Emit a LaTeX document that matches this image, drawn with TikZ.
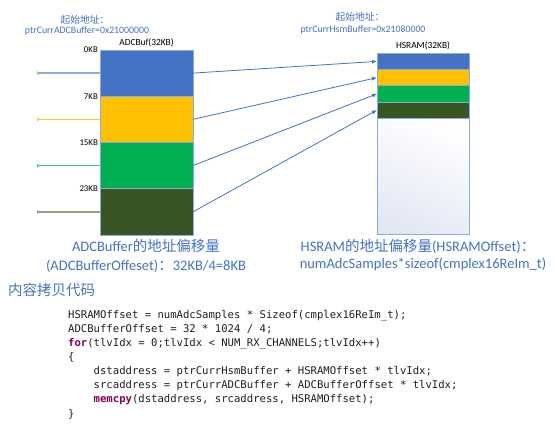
\documentclass[tikz,border=0pt]{standalone}
\usepackage{fontspec}
\setmainfont{Carlito}
\setmonofont{DejaVu Sans Mono}
\newfontfamily\cjk{Noto Sans CJK SC}
\usepackage{tikz}
\usetikzlibrary{arrows.meta,positioning}
\definecolor{bufBlue}{HTML}{4472C4}
\definecolor{bufYellow}{HTML}{FFC000}
\definecolor{bufGreen}{HTML}{00B050}
\definecolor{bufDark}{HTML}{375623}
\definecolor{bufEdge}{HTML}{8FAADC}
\definecolor{bufShade}{HTML}{E4E8F5}
\definecolor{kwPurple}{HTML}{7F0055}
\tikzset{
  buf/seg/.style={draw=bufEdge, line width=0.6pt, minimum width=93pt, minimum height=46.25pt, inner sep=0pt, outer sep=0pt},
  buf/hseg/.style={buf/seg, minimum width=92pt, minimum height=16.2pt},
  buf/kb/.style={font=\fontsize{8.8}{10}\selectfont, anchor=east, inner sep=1pt, xshift=-1pt},
  buf/title/.style={font=\fontsize{9.4}{11}\selectfont, anchor=south, inner sep=1pt, yshift=2pt},
  buf/addr/.style={text=bufBlue, font=\fontsize{9.8}{11}\selectfont, inner sep=0pt},
  buf/cap/.style={text=bufBlue, font=\fontsize{14.5}{17}\selectfont, inner sep=0pt},
  buf/copy/.style={-{Latex[length=5pt,width=4pt]}, draw=bufBlue, line width=0.8pt},
  buf/feed/.style={{Latex[length=3pt,width=4.5pt,reversed]}-, line width=1.6pt},
  buf/code/.style={font=\fontsize{10.6}{14.1}\selectfont\ttfamily, text=black!88, align=left, inner sep=0pt}
}
\newcommand{\kw}[1]{\textcolor{kwPurple}{\textbf{#1}}}

\begin{document}
\begin{tikzpicture}[x=1pt, y=-1pt, node distance=0pt]
  \useasboundingbox (0,0) rectangle (554,436);
  % ADC buffer
  \node[buf/seg, fill=bufBlue] (adc1) at (146.5,73.1) {};
  \node[buf/seg, fill=bufYellow, below=of adc1] (adc2) {};
  \node[buf/seg, fill=bufGreen, below=of adc2] (adc3) {};
  \node[buf/seg, fill=bufDark, below=of adc3] (adc4) {};
  \node[buf/title] (adcname) at (adc1.north) {ADCBuf(32KB)};
  \node[buf/kb] (kb0) at (adc1.north west) {0KB};
  \node[buf/kb] (kb7) at (adc2.north west) {7KB};
  \node[buf/kb] (kb15) at (adc3.north west) {15KB};
  \node[buf/kb] (kb23) at (adc4.north west) {23KB};
  % HSRAM
  \node[buf/hseg, fill=bufBlue] (hs1) at (423,61.4) {};
  \node[buf/hseg, fill=bufYellow, below=of hs1] (hs2) {};
  \node[buf/hseg, fill=bufGreen, below=of hs2] (hs3) {};
  \node[buf/hseg, fill=bufDark, below=of hs3] (hs4) {};
  \node[buf/hseg, minimum height=116pt, top color=white, bottom color=bufShade, shading angle=-25, below=of hs4] (hsfree) {};
  \node[buf/title] (hsname) at (hs1.north) {HSRAM(32KB)};
  % start addresses
  \node[buf/addr] (adcstart) at (85,20) {\cjk 起始地址：};
  \node[buf/addr] (adcptr) at (87,31) {ptrCurrADCBuffer=0x21000000};
  \node[buf/addr] (hsstart) at (360,17) {\cjk 起始地址：};
  \node[buf/addr] (hsptr) at (363,30) {ptrCurrHsmBuffer=0x21080000};
  % incoming lines
  \coordinate[left=63pt of adc1.west] (in1);
  \coordinate[left=63pt of adc2.west] (in2);
  \coordinate[left=63pt of adc3.west] (in3);
  \coordinate[left=63pt of adc4.west] (in4);
  \draw[buf/feed, bufBlue!60] (in1) -- (adc1);
  \draw[buf/feed, bufYellow!85] (in2) -- (adc2);
  \draw[buf/feed, bufGreen!70] (in3) -- (adc3);
  \draw[buf/feed, bufDark!55] (in4) -- (adc4);
  % copies
  \draw[buf/copy] (adc1.east) -- (hs1.west);
  \draw[buf/copy] (adc2.east) -- (hs2.west);
  \draw[buf/copy] (adc3.east) -- (hs3.west);
  \draw[buf/copy] (adc4.east) -- (hs4.west);
  % offsets
  \node[buf/cap] (adccap) at (146,246) {ADCBuffer{\cjk 的地址偏移量}};
  \node[buf/cap] (adcoff) at (146,266) {(ADCBufferOffeset){\cjk ：}32KB/4=8KB};
  \node[buf/cap] (hscap) at (418,246) {HSRAM{\cjk 的地址偏移量}(HSRAMOffset){\cjk ：}};
  \node[buf/cap] (hsoff) at (423,264) {numAdcSamples*sizeof(cmplex16ReIm\_t)};
  % copy code
  \node[buf/cap, anchor=west] (codetitle) at (8,290) {\cjk 内容拷贝代码};
  \node[buf/code, anchor=north west] (code) at (68,310) {%
HSRAMOffset = numAdcSamples * Sizeof(cmplex16ReIm\_t);\\
ADCBufferOffset = 32 * 1024 / 4;\\
\kw{for}(tlvIdx = 0;tlvIdx < NUM\_RX\_CHANNELS;tlvIdx++)\\
\{\\
\phantom{xxxx}dstaddress = ptrCurrHsmBuffer + HSRAMOffset * tlvIdx;\\
\phantom{xxxx}srcaddress = ptrCurrADCBuffer + ADCBufferOffset * tlvIdx;\\
\phantom{xxxx}\kw{memcpy}(dstaddress, srcaddress, HSRAMOffset);\\
\}};
\end{tikzpicture}
\end{document}
